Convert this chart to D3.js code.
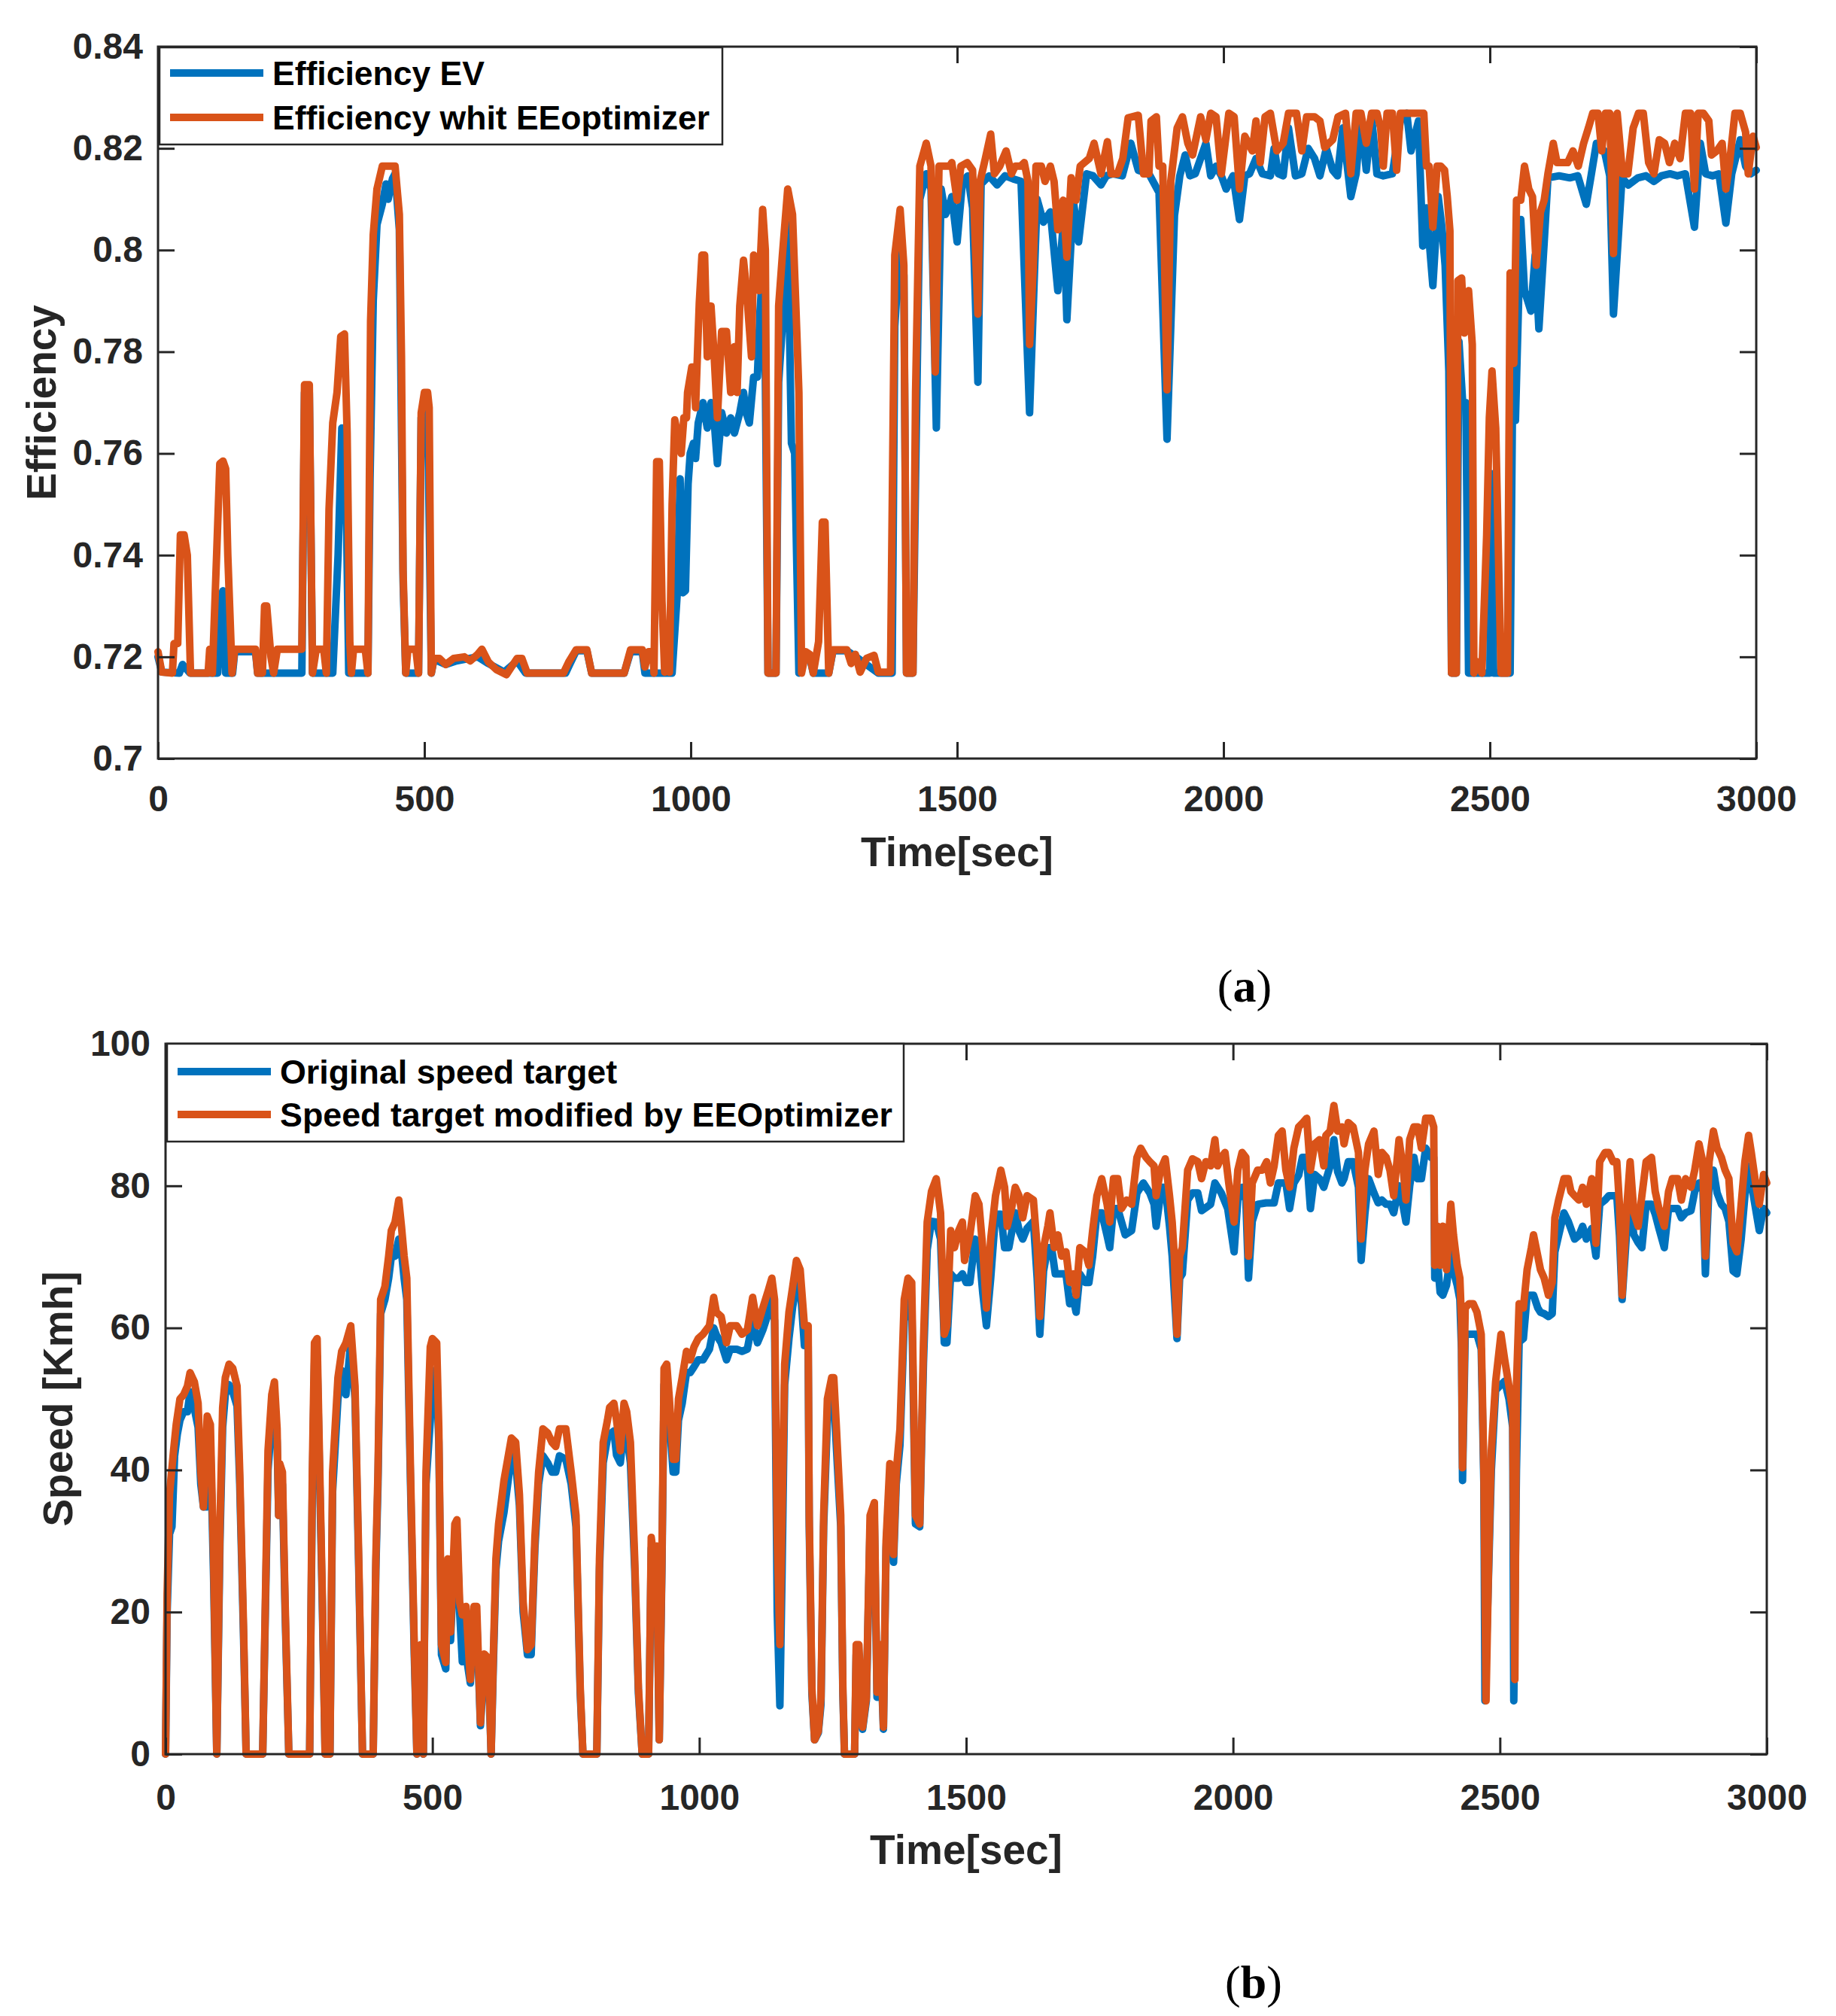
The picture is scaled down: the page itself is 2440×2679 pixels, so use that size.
<!DOCTYPE html>
<html>
<head>
<meta charset="utf-8">
<script src="https://cdn.jsdelivr.net/npm/d3@7"></script>
<style>
  body { margin: 0; background: #fff; }
  svg text { font-family: "Liberation Sans", Arial, Helvetica, sans-serif; }
</style>
</head>
<body>
<div id="chart"></div>
<script>
// shared tick values
const timeTicks = [0, 500, 1000, 1500, 2000, 2500, 3000];
const effTicks = [0.7, 0.72, 0.74, 0.76, 0.78, 0.8, 0.82, 0.84];
const speedTicks = [0, 20, 40, 60, 80, 100];

// panel (a) : [time s, efficiency]
const effEV = [
  [0,0.7200],[7,0.7170],[40,0.7168],[46,0.7185],[60,0.7168],[112,0.7168],[118,0.7320],[122,0.7330],[127,0.7168],
  [140,0.7168],[144,0.7210],[183,0.7210],[187,0.7168],[270,0.7168],[275,0.7720],[284,0.7720],[290,0.7168],
  [328,0.7168],[338,0.7400],[345,0.7650],[352,0.7600],[358,0.7168],[394,0.7168],[398,0.7550],[404,0.7900],
  [411,0.8050],[421,0.8090],[428,0.8130],[432,0.8100],[440,0.8140],[445,0.8150],[453,0.8040],[460,0.7350],
  [465,0.7168],[489,0.7168],[494,0.7670],[506,0.7700],[513,0.7168],[518,0.7195],[540,0.7185],[560,0.7192],
  [600,0.7200],[620,0.7187],[650,0.7170],[674,0.7192],[690,0.7168],[765,0.7168],[785,0.7212],[805,0.7212],
  [814,0.7168],[875,0.7168],[887,0.7210],[909,0.7210],[914,0.7168],[965,0.7168],[975,0.7330],[980,0.7550],[985,0.7326],
  [990,0.7330],[995,0.7540],[999,0.7600],[1005,0.7620],[1009,0.7590],[1014,0.7660],[1023,0.7700],[1031,0.7650],
  [1038,0.7700],[1045,0.7650],[1050,0.7580],[1058,0.7680],[1067,0.7640],[1075,0.7670],[1082,0.7640],[1092,0.7680],
  [1099,0.7720],[1104,0.7680],[1110,0.7660],[1118,0.7750],[1125,0.7750],[1130,0.7880],[1135,0.7960],[1140,0.7750],
  [1145,0.7168],[1160,0.7168],[1165,0.7740],[1175,0.7900],[1182,0.8050],[1189,0.7620],[1195,0.7600],[1203,0.7168],
  [1216,0.7208],[1223,0.7200],[1230,0.7168],[1259,0.7168],[1267,0.7212],[1293,0.7212],[1310,0.7200],[1352,0.7168],
  [1378,0.7168],[1383,0.7850],[1393,0.8020],[1400,0.7950],[1405,0.7168],[1417,0.7168],[1422,0.7550],[1430,0.8100],
  [1442,0.8150],[1451,0.8120],[1461,0.7650],[1470,0.8120],[1478,0.8070],[1486,0.8090],[1490,0.8105],[1500,0.8016],
  [1510,0.8135],[1520,0.8146],[1529,0.8083],[1539,0.7740],[1545,0.8130],[1560,0.8146],[1575,0.8128],[1590,0.8146],
  [1605,0.8140],[1620,0.8135],[1636,0.7680],[1650,0.8100],[1662,0.8055],[1675,0.8075],[1689,0.7920],[1700,0.8060],
  [1706,0.7863],[1718,0.8098],[1728,0.8016],[1743,0.8150],[1755,0.8146],[1770,0.8128],[1780,0.8146],[1792,0.8150],
  [1810,0.8146],[1826,0.8210],[1840,0.8157],[1860,0.8150],[1879,0.8113],[1894,0.7628],[1908,0.8068],[1918,0.8146],
  [1928,0.8187],[1937,0.8146],[1947,0.8150],[1957,0.8180],[1967,0.8210],[1976,0.8146],[1986,0.8165],[1996,0.8146],
  [2005,0.8120],[2018,0.8146],[2030,0.8060],[2040,0.8146],[2049,0.8150],[2061,0.8180],[2073,0.8150],[2088,0.8146],
  [2095,0.8200],[2103,0.8150],[2112,0.8146],[2122,0.8240],[2135,0.8146],[2147,0.8150],[2159,0.8200],[2171,0.8180],
  [2181,0.8146],[2193,0.8200],[2205,0.8157],[2214,0.8146],[2224,0.8240],[2239,0.8105],[2249,0.8150],[2258,0.8262],
  [2268,0.8157],[2278,0.8262],[2288,0.8150],[2300,0.8146],[2317,0.8150],[2332,0.8254],[2344,0.8269],[2352,0.8195],
  [2366,0.8254],[2374,0.8008],[2381,0.8083],[2393,0.7930],[2403,0.8105],[2410,0.8045],[2416,0.7970],[2423,0.7762],
  [2428,0.7168],[2437,0.7168],[2442,0.7820],[2449,0.7700],[2455,0.7700],[2460,0.7168],[2500,0.7168],[2503,0.7560],
  [2507,0.7168],[2538,0.7168],[2543,0.7760],[2548,0.7665],[2558,0.8060],[2565,0.7920],[2577,0.7880],[2585,0.7990],
  [2592,0.7845],[2602,0.8016],[2609,0.8142],[2630,0.8146],[2650,0.8142],[2665,0.8146],[2681,0.8090],[2690,0.8146],
  [2700,0.8210],[2715,0.8195],[2725,0.8146],[2732,0.7874],[2748,0.8142],[2760,0.8128],[2778,0.8142],[2793,0.8146],
  [2808,0.8135],[2822,0.8146],[2838,0.8150],[2852,0.8146],[2867,0.8150],[2884,0.8045],[2895,0.8210],[2905,0.8150],
  [2918,0.8146],[2930,0.8150],[2943,0.8053],[2954,0.8150],[2970,0.8217],[2980,0.8165],[2990,0.8150],[3000,0.8157]
];

const effOpt = [
  [0,0.7210],[7,0.7170],[27,0.7168],[30,0.7226],[37,0.7226],[42,0.7440],[49,0.7440],[55,0.7400],[61,0.7168],
  [94,0.7168],[97,0.7215],[102,0.7168],[110,0.7400],[116,0.7580],[122,0.7585],[127,0.7570],[131,0.7400],[139,0.7168],
  [144,0.7215],[183,0.7215],[187,0.7168],[196,0.7168],[200,0.7300],[204,0.7300],[212,0.7200],[217,0.7168],[224,0.7215],
  [270,0.7215],[275,0.7735],[284,0.7735],[290,0.7168],[297,0.7215],[311,0.7215],[316,0.7168],[321,0.7490],[328,0.7660],
  [336,0.7720],[343,0.7830],[350,0.7835],[355,0.7640],[360,0.7230],[363,0.7168],[367,0.7215],[389,0.7215],[394,0.7168],
  [397,0.7580],[399,0.7860],[404,0.8030],[411,0.8120],[421,0.8165],[445,0.8165],[453,0.8070],[457,0.7790],[460,0.7370],
  [465,0.7168],[469,0.7215],[484,0.7215],[489,0.7168],[494,0.7680],[500,0.7720],[506,0.7720],[509,0.7690],[513,0.7168],
  [518,0.7197],[528,0.7197],[540,0.7185],[555,0.7197],[575,0.7200],[586,0.7192],[600,0.7205],[608,0.7215],[620,0.7190],
  [635,0.7175],[654,0.7165],[674,0.7197],[683,0.7197],[693,0.7168],[761,0.7168],[771,0.7190],[785,0.7214],[805,0.7214],
  [814,0.7168],[875,0.7168],[887,0.7214],[909,0.7214],[914,0.7180],[921,0.7210],[929,0.7210],[931,0.7168],[936,0.7584],
  [941,0.7584],[946,0.7310],[951,0.7170],[955,0.7230],[960,0.7170],[965,0.7500],[970,0.7666],[982,0.7600],[987,0.7670],
  [992,0.7670],[994,0.7720],[1002,0.7770],[1006,0.7770],[1009,0.7690],[1016,0.7896],[1021,0.7990],[1026,0.7990],
  [1031,0.7790],[1038,0.7890],[1044,0.7790],[1050,0.7670],[1058,0.7840],[1067,0.7840],[1075,0.7720],[1082,0.7810],
  [1087,0.7720],[1092,0.7890],[1099,0.7980],[1104,0.7930],[1114,0.7790],[1118,0.7990],[1128,0.7920],[1135,0.8080],
  [1140,0.8000],[1145,0.7168],[1160,0.7168],[1165,0.7890],[1172,0.7990],[1182,0.8120],[1191,0.8070],[1199,0.7840],
  [1203,0.7720],[1208,0.7168],[1216,0.7210],[1223,0.7205],[1230,0.7168],[1240,0.7230],[1247,0.7465],[1252,0.7465],
  [1259,0.7168],[1267,0.7214],[1293,0.7214],[1301,0.7187],[1309,0.7205],[1318,0.7170],[1330,0.7197],[1344,0.7203],
  [1352,0.7170],[1375,0.7170],[1383,0.7990],[1393,0.8080],[1400,0.7970],[1405,0.7168],[1417,0.7168],[1422,0.7720],
  [1430,0.8165],[1442,0.8210],[1451,0.8165],[1459,0.7760],[1466,0.8165],[1478,0.8165],[1486,0.8165],[1490,0.8172],
  [1500,0.8098],[1507,0.8165],[1519,0.8172],[1529,0.8157],[1539,0.7874],[1543,0.8135],[1553,0.8180],[1563,0.8228],
  [1570,0.8150],[1580,0.8165],[1592,0.8195],[1602,0.8150],[1609,0.8165],[1619,0.8165],[1626,0.8172],[1633,0.8135],
  [1636,0.7814],[1643,0.7970],[1648,0.8165],[1658,0.8165],[1665,0.8135],[1675,0.8165],[1682,0.8135],[1689,0.8040],
  [1699,0.8098],[1706,0.7986],[1714,0.8142],[1723,0.8098],[1731,0.8165],[1748,0.8180],[1757,0.8210],[1770,0.8150],
  [1782,0.8213],[1789,0.8150],[1801,0.8150],[1811,0.8180],[1821,0.8260],[1840,0.8265],[1850,0.8150],[1860,0.8150],
  [1864,0.8254],[1874,0.8262],[1879,0.8165],[1886,0.8165],[1894,0.7725],[1901,0.8135],[1913,0.8240],[1923,0.8262],
  [1933,0.8210],[1942,0.8187],[1957,0.8262],[1967,0.8217],[1976,0.8269],[1986,0.8262],[1996,0.8150],[2010,0.8269],
  [2020,0.8262],[2030,0.8120],[2040,0.8224],[2054,0.8195],[2061,0.8254],[2069,0.8172],[2078,0.8262],[2088,0.8269],
  [2100,0.8195],[2112,0.8210],[2122,0.8269],[2137,0.8269],[2147,0.8195],[2156,0.8262],[2171,0.8262],[2181,0.8254],
  [2190,0.8202],[2205,0.8217],[2215,0.8262],[2229,0.8269],[2239,0.8150],[2249,0.8269],[2258,0.8269],[2268,0.8210],
  [2278,0.8269],[2288,0.8269],[2295,0.8240],[2300,0.8165],[2307,0.8269],[2317,0.8269],[2325,0.8157],[2332,0.8269],
  [2366,0.8269],[2376,0.8269],[2381,0.8165],[2386,0.8165],[2393,0.8045],[2401,0.8165],[2408,0.8165],[2415,0.8157],
  [2420,0.8105],[2425,0.8038],[2428,0.7168],[2437,0.7168],[2440,0.7940],[2447,0.7945],[2452,0.7837],[2460,0.7920],
  [2467,0.7814],[2470,0.7168],[2477,0.7190],[2485,0.7168],[2494,0.7440],[2499,0.7670],[2504,0.7762],[2511,0.7650],
  [2516,0.7405],[2521,0.7168],[2533,0.7168],[2538,0.7955],[2545,0.7777],[2550,0.8098],[2558,0.8098],[2565,0.8165],
  [2573,0.8120],[2580,0.8105],[2587,0.7970],[2595,0.8075],[2602,0.8098],[2609,0.8150],[2619,0.8210],[2626,0.8172],
  [2636,0.8172],[2646,0.8172],[2656,0.8195],[2666,0.8165],[2676,0.8210],[2685,0.8240],[2693,0.8269],[2703,0.8269],
  [2710,0.8195],[2717,0.8269],[2725,0.8269],[2732,0.7993],[2739,0.8269],[2749,0.8150],[2759,0.8150],[2769,0.8240],
  [2779,0.8269],[2788,0.8269],[2798,0.8172],[2808,0.8150],[2818,0.8217],[2828,0.8210],[2837,0.8172],[2847,0.8210],
  [2857,0.8180],[2867,0.8269],[2877,0.8269],[2884,0.8120],[2891,0.8269],[2901,0.8269],[2911,0.8254],[2916,0.8187],
  [2926,0.8195],[2936,0.8210],[2943,0.8120],[2950,0.8172],[2960,0.8269],[2970,0.8269],[2980,0.8232],[2985,0.8150],
  [2994,0.8224],[3000,0.8202]
];

// panel (b) : [time s, speed km/h]
const speedOrig = [
  [0,0],[3,20],[7.5,31],[12,32],[17,42],[22,45],[27,47],[34,48.2],[41,48.2],[46,51],[54,48.6],[61,46],[66,38],[71,34.8],
  [78,34.8],[84,44],[90,25],[96,0],[102,30],[107,46],[112,50.6],[119,52],[126,51],[134,49],[139,38],[146,17],[151,0],
  [182,0],[187,20],[192,40],[199,47],[204,50],[209,44],[212,33.6],[214,38],[219,38],[224,20],[231,0],[270,0],[275,37],
  [279,55],[284,56],[289,38],[294,20],[299,0],[308,0],[313,37],[323,50],[330,54],[338,50.6],[347,58],[355,50],[362,26],
  [369,0],[389,0],[394,26],[398,38],[403,62],[411,64],[418,67],[423,70],[430,70.1],[437,72.5],[442,70.7],[447,67],
  [452,64],[459,38],[466,14],[471,0],[478,14],[483,0],[488,38],[496,47],[500,54],[508,52],[512,44],[517,14],[525,12],
  [529,26],[534,16],[542,30],[546,31],[551,20],[556,13],[563,14],[571,10],[578,19],[583,19],[590,4],[597,13],[605,12],
  [610,0],[614,12],[619,26],[624,30],[634,34],[641,38],[648,42],[656,41],[663,35],[670,20],[678,14],[685,14],[692,29],
  [699,38],[707,42],[716,41],[724,39.7],[731,39.7],[738,42],[750,41.5],[760,38],[769,32],[777,8.5],[782,0],[808,0],
  [813,26],[820,41],[828,44.5],[832,45],[840,45.5],[845,42.1],[852,41],[859,46],[864,45],[871,41],[879,26],[886,8.5],
  [893,0],[905,0],[910,29],[915,26],[920,28],[925,2],[930,26],[934,52],[939,52],[944,47],[951,39.7],[956,39.7],[961,47],
  [968,49.4],[976,53.7],[983,53.7],[990,54.5],[998,55.5],[1007,55.5],[1019,57],[1027,60],[1032,59],[1041,57.9],
  [1051,55.5],[1058,57],[1070,57],[1080,56.7],[1090,57],[1100,61],[1109,57.9],[1119,59.7],[1129,62],[1136,64],[1141,61],
  [1146,20],[1151,6.8],[1155,25],[1160,52],[1168,58.5],[1175,63],[1182,66],[1189,66],[1197,57.5],[1204,57.5],[1206,32],
  [1211,8.5],[1216,2],[1223,3],[1228,7],[1233,32],[1240,47],[1248,50],[1252,50],[1257,43],[1265,32],[1269,8.5],[1272,0],
  [1291,0],[1294,14],[1299,14],[1306,3.5],[1313,7.5],[1320,32],[1328,33],[1333,8],[1340,14],[1345,3.5],[1350,29],
  [1357,39],[1364,27],[1369,38],[1376,43.5],[1384,61],[1391,64],[1398,63.5],[1405,32.4],[1413,32],[1420,55],[1427,71],
  [1435,75],[1444,74.9],[1452,72.5],[1459,57.9],[1464,57.9],[1471,67.6],[1478,67],[1486,67],[1493,67.6],[1500,66.4],
  [1507,66.4],[1517,72.5],[1524,71],[1531,65],[1538,60.3],[1546,67],[1555,76],[1565,76],[1572,71.3],[1580,71.3],
  [1592,76.2],[1600,73.5],[1606,72.5],[1614,74],[1626,75],[1633,67],[1638,59.1],[1645,68],[1653,71.3],[1660,71.3],
  [1667,67.6],[1679,67.6],[1687,67.6],[1694,63.4],[1701,64],[1706,62.2],[1713,67.6],[1723,66.4],[1730,66.4],[1737,70.1],
  [1745,76.2],[1754,76.2],[1764,73],[1769,71.3],[1776,76.8],[1784,76.8],[1798,73.1],[1810,73.7],[1820,79],[1832,80.4],
  [1844,79],[1852,77.4],[1856,74.3],[1866,79.8],[1873,79.8],[1881,74.3],[1886,70.1],[1895,58.5],[1900,67],[1905,67.6],
  [1915,78],[1924,79],[1934,79],[1941,76.5],[1958,77.4],[1966,80.4],[1978,79],[1990,76.8],[2002,70.7],[2009,78],
  [2017,79.8],[2024,78],[2029,67],[2036,75],[2046,77.4],[2062,77.6],[2077,77.6],[2085,80.4],[2092,80.4],[2099,80.4],
  [2106,76.8],[2114,80.4],[2123,81.5],[2130,84],[2138,84],[2145,76.8],[2153,81.6],[2162,81],[2170,79.8],[2182,82.8],
  [2189,86.5],[2196,82],[2204,80.4],[2208,81],[2216,83.4],[2225,83.4],[2235,79.8],[2240,69.5],[2247,76],[2254,81],
  [2264,79],[2272,77.6],[2279,78],[2287,77.4],[2294,77.4],[2301,76.2],[2311,80],[2319,77],[2324,74.9],[2331,80],
  [2339,84],[2346,81],[2353,81],[2361,85.3],[2371,84],[2376,84],[2378,67],[2383,69.5],[2388,65],[2393,64.6],[2400,66],
  [2408,70.7],[2413,68],[2420,66],[2425,64],[2428,57],[2430,38.5],[2435,59.1],[2442,59.1],[2450,59.1],[2457,59.1],
  [2465,57],[2470,38],[2472,7.5],[2479,26],[2484,40],[2492,51.2],[2502,52],[2509,52.5],[2517,50],[2524,46],[2526,7.5],
  [2531,40],[2536,58],[2544,58.5],[2551,64.6],[2559,64.6],[2563,64.6],[2571,62.8],[2576,62.2],[2583,62],[2591,61.6],
  [2598,62],[2603,70.7],[2610,73],[2620,76.2],[2628,75],[2640,72.5],[2648,73],[2655,74.3],[2662,72.5],[2672,74],
  [2680,70.1],[2687,77.4],[2697,78],[2704,78.6],[2712,78.6],[2719,78.6],[2724,73],[2729,64],[2737,73],[2744,76.8],
  [2751,73.1],[2759,72],[2766,71.3],[2774,77.4],[2784,77.4],[2791,76],[2798,74],[2808,71.3],[2816,76.8],[2823,76.8],
  [2833,76.8],[2840,75.5],[2848,76.2],[2858,76.5],[2865,79.2],[2873,80.4],[2880,80.4],[2885,67.6],[2892,80.4],
  [2900,82.2],[2907,79],[2915,77.4],[2922,76.8],[2929,75],[2937,68],[2944,67.6],[2952,72.5],[2959,78.6],[2966,82.8],
  [2971,80.4],[2979,76.8],[2986,73.7],[2994,76.8],[3000,76.2]
];

const speedOpt = [
  [0,0],[3,22.6],[7.5,36.6],[15,42.7],[20,46.4],[27,50],[34,50.6],[41,51.8],[46,53.7],[54,52.4],[61,49.4],[66,39.7],
  [71,34.8],[78,47.6],[84,46.4],[90,27.5],[96,0],[102,32.4],[107,48.8],[112,53],[119,54.9],[126,54.3],[134,51.8],
  [139,39.7],[146,18.4],[151,0],[182,0],[187,21.4],[192,42.7],[199,50.6],[204,52.4],[209,45.8],[212,33.6],[214,40.9],
  [219,39.7],[224,21.4],[231,0],[270,0],[275,39.7],[279,57.9],[284,58.5],[289,39.7],[294,21.4],[299,0],[308,0],
  [313,39.7],[323,53],[330,56.7],[338,57.9],[347,60.3],[355,51.8],[362,27.5],[369,0],[389,0],[394,27.5],[398,39.7],
  [403,64],[411,65.8],[418,70.1],[423,73.7],[430,74.9],[437,78],[442,74.3],[447,70.1],[452,67],[459,39.7],[466,15.4],
  [471,0],[478,15.4],[483,0],[488,39.7],[496,57.3],[500,58.5],[508,57.9],[512,45.8],[517,15.4],[525,12.9],[529,27.5],
  [534,17.2],[542,32.4],[546,33],[551,21.4],[556,19.6],[563,20.8],[571,10.5],[578,20.8],[583,20.8],[590,4.4],[597,14.1],
  [605,13.5],[610,0],[614,13.5],[619,27.5],[624,32.4],[634,38.5],[641,41.5],[648,44.5],[656,43.9],[663,36.6],[670,21.4],
  [678,14.7],[685,15.4],[692,30.5],[699,39.7],[707,45.8],[716,45.2],[724,43.9],[731,43.3],[738,45.8],[750,45.8],
  [760,39.7],[769,33.6],[777,9.3],[782,0],[808,0],[813,27.5],[820,43.9],[828,47],[832,48.8],[840,49.4],[845,47],
  [852,42.7],[859,49.4],[864,48.2],[871,43.9],[879,27.5],[886,9.3],[893,0],[905,0],[910,30.5],[915,27.5],[920,29.3],
  [925,2],[930,27.5],[934,54.3],[939,54.9],[944,50],[951,41.5],[956,41.5],[961,50],[968,53],[976,56.7],[983,55.5],
  [990,57.3],[998,58.5],[1007,59.1],[1019,60.3],[1027,64.3],[1032,62.2],[1041,61.6],[1051,57.9],[1058,60.3],[1070,60.3],
  [1080,59.1],[1090,59.7],[1100,64.3],[1109,60.3],[1119,62.8],[1129,65.2],[1136,67],[1141,64],[1146,30.5],[1151,15.4],
  [1155,33.6],[1160,54.9],[1168,62.2],[1175,65.8],[1182,69.5],[1189,68.2],[1197,60.3],[1204,60.3],[1206,33.6],[1211,9.3],
  [1216,2],[1223,3.2],[1228,8],[1233,33.6],[1240,50],[1248,53],[1252,53],[1257,45.8],[1265,33.6],[1269,9.3],[1272,0],
  [1291,0],[1294,15.4],[1299,15.4],[1306,3.8],[1313,8],[1320,33.6],[1328,35.4],[1333,8.7],[1340,15.4],[1345,3.8],
  [1350,30],[1357,40.9],[1364,28.1],[1369,39.7],[1376,45.8],[1384,64],[1391,67],[1398,66.4],[1405,33.6],[1413,32.4],
  [1420,57.9],[1427,74.9],[1435,79.2],[1444,81],[1452,76.2],[1459,59.1],[1464,60.3],[1471,73.7],[1478,71.3],[1486,73.7],
  [1493,74.9],[1497,69.5],[1507,73.1],[1517,78.6],[1524,77.4],[1531,71.3],[1538,62.8],[1546,72.5],[1555,78.6],
  [1565,82.2],[1572,79.8],[1577,74.3],[1585,76.8],[1592,79.8],[1599,78.6],[1606,75.5],[1614,78.6],[1626,78],[1633,71.3],
  [1638,61.6],[1645,71.3],[1653,74.3],[1657,76.2],[1665,71.3],[1672,73.1],[1679,70.1],[1687,70.7],[1694,66.4],
  [1701,67.6],[1706,64.6],[1713,71.3],[1723,70.7],[1730,68.8],[1737,73.7],[1745,78.6],[1754,81],[1764,77.4],[1769,74.9],
  [1776,81],[1784,81],[1791,76.8],[1801,78],[1810,77.4],[1820,84],[1827,85.3],[1837,84],[1844,83.4],[1852,82.8],
  [1856,78.6],[1864,82.2],[1873,83.8],[1881,78.6],[1886,74.9],[1890,70.1],[1895,59.1],[1900,70.1],[1905,71.3],
  [1915,82.2],[1924,83.8],[1934,83.4],[1941,81],[1949,83.4],[1958,82.8],[1966,86.5],[1971,82.8],[1978,84],[1985,84.7],
  [1992,80.4],[2002,74.9],[2009,82.2],[2017,84.7],[2024,84],[2029,70.1],[2036,80.4],[2046,82.2],[2055,82.2],[2063,83.4],
  [2070,80.4],[2077,82.8],[2085,87.1],[2092,87.7],[2099,82.2],[2106,79.8],[2114,85.3],[2123,88.3],[2131,88.9],
  [2138,89.5],[2145,82.2],[2153,85.9],[2162,86.5],[2170,82.8],[2174,87.1],[2182,87.7],[2189,91.3],[2196,87.7],
  [2204,88.3],[2208,85.9],[2216,88.9],[2225,88.3],[2235,84.7],[2240,72.5],[2247,82.2],[2254,85.9],[2264,87.7],
  [2272,81.6],[2279,84.7],[2287,84],[2294,82.2],[2301,78.6],[2311,86.5],[2319,82.2],[2324,78],[2331,86.5],[2339,88.3],
  [2346,88.3],[2353,85.3],[2361,89.5],[2371,89.5],[2376,88.3],[2378,68.8],[2383,74.3],[2388,68.8],[2393,74.3],
  [2400,68.2],[2408,77.4],[2413,73.1],[2420,68.8],[2425,67],[2428,61],[2430,40.3],[2435,62.8],[2442,63.4],[2450,63.4],
  [2457,62.2],[2465,59.1],[2470,39.7],[2474,7.5],[2479,27.5],[2484,42.7],[2492,52.4],[2502,59.1],[2509,55.5],
  [2517,51.8],[2524,48.2],[2528,10.5],[2531,51.8],[2536,63.4],[2544,62.8],[2551,68.2],[2559,71.3],[2563,73.1],
  [2571,70.1],[2576,68.2],[2583,67],[2591,64.6],[2598,66.4],[2603,75.5],[2610,78],[2620,81],[2628,81],[2633,79.2],
  [2640,78.6],[2648,78],[2655,79.8],[2662,77.4],[2672,81],[2680,71.9],[2687,83.4],[2697,84.7],[2704,84.7],[2712,83.4],
  [2719,83.4],[2724,77.4],[2729,64.6],[2737,76.2],[2744,83.4],[2751,76.2],[2759,74.3],[2766,78.6],[2774,83.4],
  [2784,84],[2791,79.2],[2798,76.8],[2808,74.3],[2816,79.2],[2823,81],[2833,81],[2840,78],[2848,81],[2858,79.8],
  [2865,82.2],[2873,85.9],[2880,83.4],[2885,70.1],[2892,83.4],[2900,87.7],[2907,85.3],[2915,84],[2922,82.2],[2929,81],
  [2937,71.9],[2944,70.7],[2952,77.4],[2959,83.4],[2966,87.1],[2971,84.7],[2979,80.4],[2986,77.4],[2994,81.6],
  [3000,80.4]
];

const COLORS = { blue: "#0072BD", orange: "#D95319", axis: "#262626" };

const svg = d3.select("#chart").append("svg")
  .attr("width", 2440)
  .attr("height", 2679)
  .style("display", "block")
  .style("background", "#fff");

function drawPanel(opts) {
  const w = opts.right - opts.left;
  const h = opts.bottom - opts.top;
  const g = svg.append("g").attr("transform", `translate(${opts.left},${opts.top})`);

  const x = d3.scaleLinear().domain([0, 3000]).range([0, w]);
  const y = d3.scaleLinear().domain(opts.yDomain).range([h, 0]);

  const line = d3.line().x(d => x(d[0])).y(d => y(d[1]));

  // series: blue first so orange sits on top
  g.append("path").datum(opts.series[0])
    .attr("d", line).attr("fill", "none")
    .attr("stroke", COLORS.blue).attr("stroke-width", 10)
    .attr("stroke-linejoin", "round").attr("stroke-linecap", "round");
  g.append("path").datum(opts.series[1])
    .attr("d", line).attr("fill", "none")
    .attr("stroke", COLORS.orange).attr("stroke-width", 10)
    .attr("stroke-linejoin", "round").attr("stroke-linecap", "round");

  const tickLen = 22;
  // bottom axis with labels, ticks pointing inward
  const xAxis = g.append("g").attr("transform", `translate(0,${h})`)
    .call(d3.axisBottom(x).tickValues(timeTicks).tickFormat(d => String(d))
      .tickSizeInner(-tickLen).tickSizeOuter(0).tickPadding(opts.xPad));
  const yAxis = g.append("g")
    .call(d3.axisLeft(y).tickValues(opts.yTicks).tickFormat(d => String(d))
      .tickSizeInner(-tickLen).tickSizeOuter(0).tickPadding(20));
  // mirrored ticks top/right
  const xTop = g.append("g")
    .call(d3.axisTop(x).tickValues(timeTicks).tickSizeInner(-tickLen).tickSizeOuter(0).tickFormat(""));
  const yRight = g.append("g").attr("transform", `translate(${w},0)`)
    .call(d3.axisRight(y).tickValues(opts.yTicks).tickSizeInner(-tickLen).tickSizeOuter(0).tickFormat(""));

  [xAxis, yAxis, xTop, yRight].forEach(a => {
    a.select(".domain").remove();
    a.selectAll(".tick line").attr("stroke", COLORS.axis).attr("stroke-width", 3);
    a.selectAll(".tick text")
      .attr("fill", COLORS.axis)
      .style("font-size", "48px")
      .style("font-weight", "bold");
  });

  g.append("rect")
    .attr("x", 0).attr("y", 0).attr("width", w).attr("height", h)
    .attr("fill", "none").attr("stroke", COLORS.axis).attr("stroke-width", 3);

  // axis titles
  g.append("text")
    .attr("x", w / 2).attr("y", h + opts.xTitleOffset)
    .attr("text-anchor", "middle")
    .attr("fill", COLORS.axis)
    .style("font-size", "55px").style("font-weight", "bold")
    .text("Time[sec]");
  g.append("text")
    .attr("transform", `translate(${opts.yTitleX - opts.left},${h / 2}) rotate(-90)`)
    .attr("text-anchor", "middle")
    .attr("fill", COLORS.axis)
    .style("font-size", "55px").style("font-weight", "bold")
    .text(opts.yTitle);

  // legend box
  const lg = g.append("g").attr("transform", `translate(${opts.legend.x - opts.left},${opts.legend.y - opts.top})`);
  lg.append("rect")
    .attr("x", 0).attr("y", 0)
    .attr("width", opts.legend.w).attr("height", opts.legend.h)
    .attr("fill", "#fff").attr("stroke", COLORS.axis).attr("stroke-width", 2.5);
  opts.legend.labels.forEach((label, i) => {
    const ly = opts.legend.rows[i];
    lg.append("line")
      .attr("x1", 14).attr("x2", 138).attr("y1", ly).attr("y2", ly)
      .attr("stroke", i === 0 ? COLORS.blue : COLORS.orange).attr("stroke-width", 10);
    lg.append("text")
      .attr("x", 150).attr("y", ly + 16)
      .attr("fill", "#000")
      .style("font-size", opts.legend.font).style("font-weight", "bold")
      .text(label);
  });
}

drawPanel({
  left: 210, right: 2334, top: 62, bottom: 1008,
  yDomain: [0.7, 0.84], yTicks: effTicks,
  series: [effEV, effOpt],
  xPad: 36, xTitleOffset: 143, yTitleX: 74,
  yTitle: "Efficiency",
  legend: { x: 212, y: 63, w: 748, h: 129, rows: [34, 93], font: "44.5px",
            labels: ["Efficiency EV", "Efficiency whit EEoptimizer"] }
});

drawPanel({
  left: 220, right: 2348, top: 1387, bottom: 2331,
  yDomain: [0, 100], yTicks: speedTicks,
  series: [speedOrig, speedOpt],
  xPad: 40, xTitleOffset: 146, yTitleX: 96,
  yTitle: "Speed [Kmh]",
  legend: { x: 222, y: 1387, w: 979, h: 130, rows: [37, 94], font: "44.8px",
            labels: ["Original speed target", "Speed target modified by EEOptimizer"] }
});

// sub-figure captions
[["a", 1654, 1331], ["b", 1666, 2655]].forEach(([letter, cx, by]) => {
  const t = svg.append("text")
    .attr("x", cx).attr("y", by)
    .attr("text-anchor", "middle")
    .attr("fill", "#000")
    .style("font-family", "'Liberation Serif', 'DejaVu Serif', serif")
    .style("font-size", "62px");
  t.append("tspan").text("(");
  t.append("tspan").style("font-weight", "bold").text(letter);
  t.append("tspan").text(")");
});
</script>
</body>
</html>
